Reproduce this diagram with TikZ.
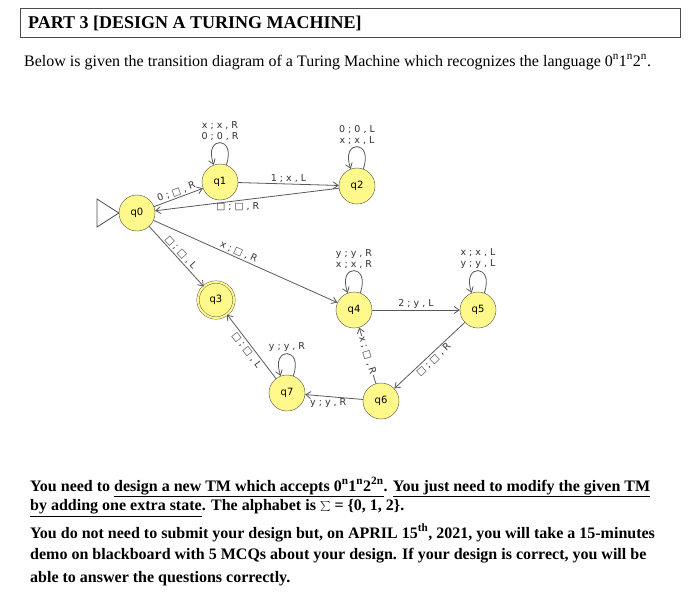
\documentclass[tikz,border=0pt]{standalone}
\usepackage{fontspec}
\setmainfont{Liberation Serif}
\newfontfamily\dv{DejaVu Sans}
\usetikzlibrary{arrows.meta}
\newcommand{\bl}{{\dv □}}
\begin{document}
\begin{tikzpicture}[x=1pt,y=-1pt,
  st/.style={circle,draw=black!70,fill=yellow!45,minimum size=36pt,inner sep=0pt,font=\dv\fontsize{10}{12}\selectfont},
  lab/.style={font=\dv\fontsize{9.5}{11}\selectfont,text=black!80,inner sep=1.5pt},
  ed/.style={draw=black!65,line width=0.8pt,-{Straight Barb[length=5pt,width=7pt]}},
  lp/.style={ed,out=70,in=110,looseness=6.5},
  txt/.style={anchor=west,inner sep=0pt,font=\fontsize{16}{19}\selectfont},
  btxt/.style={anchor=west,inner sep=0pt,font=\bfseries\fontsize{16}{19}\selectfont}]
\useasboundingbox (0,0) rectangle (700,606);
\fill[white] (0,0) rectangle (700,606);
\draw[black!70,line width=0.8pt] (20,8) rectangle (680,37);
\node[btxt,font=\bfseries\fontsize{18}{21}\selectfont] (title) at (28,23) {PART 3 [DESIGN A TURING MACHINE]};
\node[txt] (intro) at (24,62) {Below is given the transition diagram of a Turing Machine which recognizes the language 0\textsuperscript{n}1\textsuperscript{n}2\textsuperscript{n}.};

\node[st] (q0) at (137,213) {q0};
\node[st] (q1) at (220,182) {q1};
\node[st] (q2) at (357,186) {q2};
\node[st,double=yellow!45,double distance=2pt] (q3) at (216,300) {q3};
\node[st] (q4) at (354,310) {q4};
\node[st] (q5) at (478,310) {q5};
\node[st] (q6) at (381,401) {q6};
\node[st] (q7) at (287,393) {q7};
\coordinate (t1) at (97,199); \coordinate (t2) at (97,227);
\draw[black!70,line width=0.8pt] (t1) -- (q0.west) -- (t2) -- cycle;

\draw[lp] (q1) to node[lab,above,align=center]{x ; x , R\\0 ; 0 , R} (q1);
\draw[lp] (q2) to node[lab,above,align=center]{0 ; 0 , L\\x ; x , L} (q2);
\draw[lp] (q4) to node[lab,above,align=center]{y ; y , R\\x ; x , R} (q4);
\draw[lp] (q5) to node[lab,above,align=center]{x ; x , L\\y ; y , L} (q5);
\draw[lp] (q7) to node[lab,above]{y ; y , R} (q7);

\draw[ed] (q0) -- node[lab,above,sloped]{0 ; \bl\ , R} (q1);
\draw[ed] (q1) -- node[lab,above]{1 ; x , L} (q2);
\draw[ed] (q2) -- node[lab,below,pos=0.55]{\bl\ ; \bl\ , R} (q0);
\draw[ed] (q0) -- node[lab,above,sloped]{\bl\ ; \bl\ , L} (q3);
\draw[ed] (q0) -- node[lab,above,sloped,pos=0.45]{x ; \bl\ , R} (q4);
\draw[ed] (q4) -- node[lab,above]{2 ; y , L} (q5);
\draw[ed] (q5) -- node[lab,below,sloped]{\bl\ ; \bl\ , R} (q6);
\draw[ed] (q6) -- node[lab,sloped,fill=white,inner sep=0.5pt]{x ; \bl\ , R} (q4);
\draw[ed] (q6) -- node[lab,below,pos=0.6]{y ; y , R} (q7);
\draw[ed] (q7) -- node[lab,below,sloped]{\bl\ ; \bl\ , L} (q3);

\node[btxt] (p1) at (30,487) {You need to \underline{design a new TM which accepts 0\textsuperscript{n}1\textsuperscript{n}2\textsuperscript{2n}}. \underline{You just need to modify the given TM}};
\node[btxt] (p2) at (30,508) {\underline{by adding one extra state}. The alphabet is $\sum$ = \{0, 1, 2\}.};
\node[btxt] (p3) at (30,533) {You do not need to submit your design but, on APRIL 15\textsuperscript{th}, 2021, you will take a 15-minutes};
\node[btxt] (p4) at (30,556) {demo on blackboard with 5 MCQs about your design. If your design is correct, you will be};
\node[btxt] (p5) at (30,579) {able to answer the questions correctly.};
\end{tikzpicture}
\end{document}
